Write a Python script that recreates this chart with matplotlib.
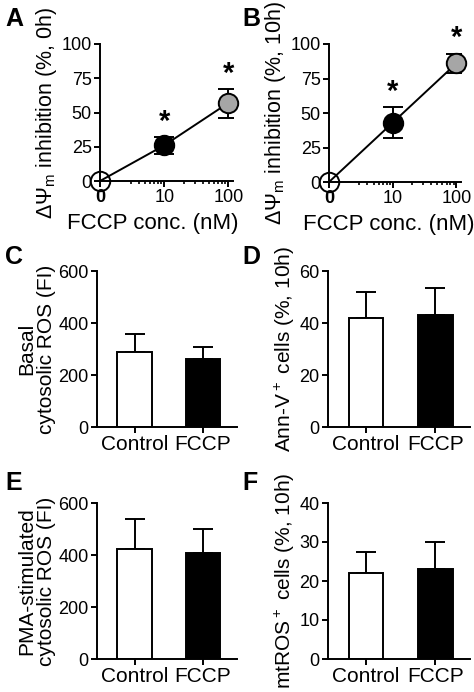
import numpy as np
import matplotlib.pyplot as plt
from matplotlib.ticker import FixedLocator, NullFormatter

plt.rcParams['font.family'] = ['Liberation Sans', 'DejaVu Sans']
plt.rcParams['mathtext.fontset'] = 'custom'
plt.rcParams['mathtext.rm'] = 'Liberation Sans'
plt.rcParams['axes.linewidth'] = 1.4
plt.rcParams['xtick.major.width'] = 1.4
plt.rcParams['ytick.major.width'] = 1.4
plt.rcParams['xtick.minor.width'] = 1.2
plt.rcParams['xtick.major.size'] = 4
plt.rcParams['ytick.major.size'] = 4
plt.rcParams['xtick.minor.size'] = 2.5

# panels A, B: dose response
conc = np.array([0, 10, 100])
inhib_0h = np.array([0, 26, 57])
inhib_0h_lo = np.array([0, 20, 46])
inhib_0h_hi = np.array([0, 32, 67])
inhib_10h = np.array([0, 43, 86])
inhib_10h_lo = np.array([0, 32, 79])
inhib_10h_hi = np.array([0, 54, 93])
point_colors = ['none', 'black', '#a6a6a6']

# panels C-F: bars
groups = ['Control', 'FCCP']
basal_ros = [288, 261]
basal_ros_err = [70, 47]
annv = [41.9, 43.1]
annv_err = [10.0, 10.5]
pma_ros = [423, 408]
pma_ros_err = [115, 92]
mtros = [22.0, 23.0]
mtros_err = [5.4, 7.0]

W, H = 474, 692
fig = plt.figure(figsize=(W / 100, H / 100), dpi=100)


def add_ax(l, t, r, b):
    return fig.add_axes([l / W, 1 - b / H, (r - l) / W, (b - t) / H])


def style(ax):
    for s in ['top', 'right']:
        ax.spines[s].set_visible(False)
    ax.tick_params(labelsize=13, pad=2)


def dose_panel(ax, mean, lo, hi, label, xlab_pos):
    style(ax)
    xpos = np.where(conc == 0, 1, conc).astype(float)
    ax.plot(xpos, mean, color='black', lw=1.4, zorder=2)
    for i in range(len(conc)):
        if conc[i] > 0:
            ax.errorbar(xpos[i], mean[i], yerr=[[mean[i] - lo[i]], [hi[i] - mean[i]]],
                        color='black', lw=1.4, capsize=7.5, capthick=1.4, zorder=3)
            ax.annotate('*', (xpos[i], hi[i]), xytext=(0, 1), textcoords='offset points',
                        ha='center', va='bottom', fontsize=21, fontweight='bold')
        ax.plot(xpos[i], mean[i], 'o', ms=14, mfc=point_colors[i], mec='black',
                mew=1.4, zorder=4, clip_on=False)
    ax.set_xscale('log')
    ax.set_xlim(1, 118)
    ax.set_ylim(0, 100)
    ax.set_yticks([0, 25, 50, 75, 100])
    ax.xaxis.set_major_locator(FixedLocator([1, 10, 100]))
    ax.xaxis.set_minor_locator(FixedLocator(list(range(3, 10)) + list(range(20, 100, 10))))
    ax.xaxis.set_minor_formatter(NullFormatter())
    ax.set_xticklabels(['0', '10', '100'])
    ax.get_xticklabels()[0].set_fontweight('bold')
    ax.set_xlabel('FCCP conc. (nM)', fontsize=16, labelpad=3)
    ax.xaxis.set_label_coords(xlab_pos, -0.235)
    ax.set_ylabel(label, fontsize=15.5, labelpad=2)


def bar_panel(ax, vals, errs, ylim, yticks, label):
    style(ax)
    x = np.arange(len(groups))
    ax.bar(x, vals, width=0.5, color=['white', 'black'], edgecolor='black', lw=1.4, zorder=2)
    ax.errorbar(x, vals, yerr=[[0, 0], errs], fmt='none', ecolor='black', elinewidth=1.4,
                capsize=7.5, capthick=1.4, zorder=1)
    ax.set_xlim(-0.55, 1.5)
    ax.set_ylim(*ylim)
    ax.set_yticks(yticks)
    ax.set_xticks(x)
    ax.set_xticklabels(groups, fontsize=15)
    ax.set_ylabel(label, fontsize=15, labelpad=2, linespacing=1.0)


axA = add_ax(100, 44, 233, 181)
dose_panel(axA, inhib_0h, inhib_0h_lo, inhib_0h_hi, r'ΔΨ$_\mathrm{m}$ inhibition (%, 0h)', 0.40)
axB = add_ax(329, 44, 461, 182)
dose_panel(axB, inhib_10h, inhib_10h_lo, inhib_10h_hi, r'ΔΨ$_\mathrm{m}$ inhibition (%, 10h)', 0.45)

axC = add_ax(97, 271, 237, 427)
bar_panel(axC, basal_ros, basal_ros_err, (0, 600), [0, 200, 400, 600],
          'Basal\ncytosolic ROS (FI)')
axD = add_ax(328, 271, 470, 427)
bar_panel(axD, annv, annv_err, (0, 60), [0, 20, 40, 60], r'Ann-V$^+$ cells (%, 10h)')
axE = add_ax(97, 503, 237, 659)
bar_panel(axE, pma_ros, pma_ros_err, (0, 600), [0, 200, 400, 600],
          'PMA-stimulated\ncytosolic ROS (FI)')
axF = add_ax(328, 503, 470, 659)
bar_panel(axF, mtros, mtros_err, (0, 40), [0, 10, 20, 30, 40], r'mtROS$^+$ cells (%, 10h)')

for letter, px, py in [('A', 5, 7), ('B', 242, 7), ('C', 5, 245), ('D', 242, 245),
                       ('E', 5, 471), ('F', 242, 471)]:
    fig.text(px / W, 1 - py / H, letter, fontsize=18, fontweight='bold', ha='left', va='top')

fig.savefig('out.png', dpi=100)
